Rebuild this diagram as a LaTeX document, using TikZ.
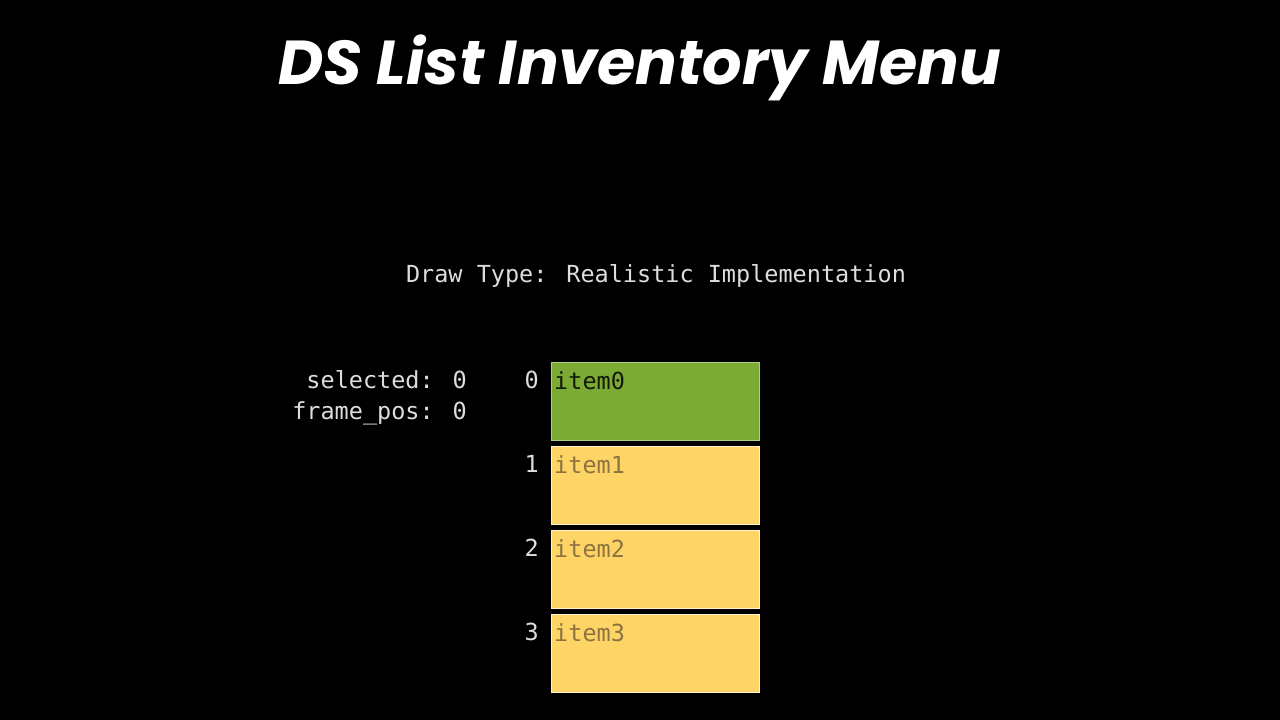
\documentclass[tikz,border=0pt]{standalone}
\usepackage{fontspec}
\setmainfont{Poppins}
\newfontfamily\monof{DejaVu Sans Mono}
\definecolor{grn}{HTML}{7BAB35}
\definecolor{yel}{HTML}{FFD466}
\definecolor{ytext}{HTML}{8C7440}
\definecolor{gtext}{HTML}{DDDDDD}
\tikzset{
  cell/.style={draw=white!70!yel, line width=0.8pt, minimum width=208pt, minimum height=78pt, anchor=north west, inner sep=0pt},
  mono/.style={font=\monof\fontsize{23.5}{26}\selectfont, inner sep=0pt},
  itemtxt/.style={mono, anchor=north west, text=ytext},
  idx/.style={mono, anchor=north east, text=gtext},
}
\begin{document}
\begin{tikzpicture}[x=1pt,y=1pt]
\fill[black] (0,0) rectangle (1280,720);
\useasboundingbox (0,0) rectangle (1280,720);
\node[text=white, font=\fontsize{62}{70}\selectfont\bfseries\itshape] (title) at (640,652) {DS List Inventory Menu};
\node[mono, text=gtext] (dt) at (656,444) {Draw Type: Realistic Implementation};
\node[mono, text=gtext, anchor=east] (sel) at (467,340) {selected: 0};
\node[mono, text=gtext, anchor=east] (fp) at (467,307) {frame\_pos: 0};
\node[cell, fill=grn, draw=grn!60!white] (c0) at (551,358) {};
\node[cell, fill=yel] (c1) at (551,274) {};
\node[cell, fill=yel] (c2) at (551,190) {};
\node[cell, fill=yel] (c3) at (551,106) {};
\foreach \i in {0,1,2,3}{
  \node[idx] (n\i) at ([xshift=-12pt,yshift=-9pt]c\i.north west) {\i};
}
\node[itemtxt, text=black!85!grn] (t0) at ([xshift=3pt,yshift=-9pt]c0.north west) {item0};
\node[itemtxt] (t1) at ([xshift=3pt,yshift=-9pt]c1.north west) {item1};
\node[itemtxt] (t2) at ([xshift=3pt,yshift=-9pt]c2.north west) {item2};
\node[itemtxt] (t3) at ([xshift=3pt,yshift=-9pt]c3.north west) {item3};
\end{tikzpicture}
\end{document}
